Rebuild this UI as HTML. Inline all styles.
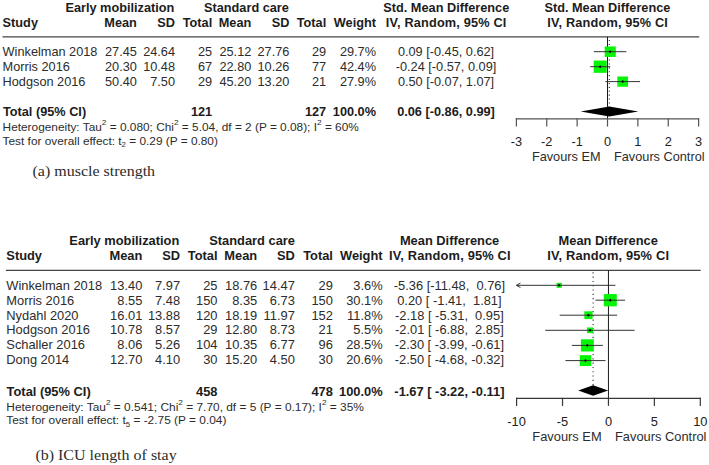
<!DOCTYPE html>
<html><head><meta charset="utf-8"><title>Forest plots</title>
<style>
html,body{margin:0;padding:0;background:#fff;width:709px;height:465px;overflow:hidden}
svg{display:block;font-family:"Liberation Sans",sans-serif;fill:#2c2c2c}
</style></head><body>
<svg width="709" height="465" viewBox="0 0 709 465">
<rect width="709" height="465" fill="#fff"/>
<text transform="translate(65.40,11.80) scale(1.06,1)" text-anchor="start" font-size="12.028" font-weight="bold" fill="#1c1c1c">Early mobilization</text>
<text transform="translate(204.00,11.80) scale(1.06,1)" text-anchor="start" font-size="12.028" font-weight="bold" fill="#1c1c1c">Standard care</text>
<text transform="translate(446.25,11.80) scale(1.06,1)" text-anchor="middle" font-size="12.028" font-weight="bold" fill="#1c1c1c">Std. Mean Difference</text>
<text transform="translate(607.40,11.80) scale(1.06,1)" text-anchor="middle" font-size="12.028" font-weight="bold" fill="#1c1c1c">Std. Mean Difference</text>
<text transform="translate(2.60,26.80) scale(1.06,1)" text-anchor="start" font-size="12.028" font-weight="bold" fill="#1c1c1c">Study</text>
<text transform="translate(136.90,26.80) scale(1.06,1)" text-anchor="end" font-size="12.028" font-weight="bold" fill="#1c1c1c">Mean</text>
<text transform="translate(175.00,26.80) scale(1.06,1)" text-anchor="end" font-size="12.028" font-weight="bold" fill="#1c1c1c">SD</text>
<text transform="translate(212.20,26.80) scale(1.06,1)" text-anchor="end" font-size="12.028" font-weight="bold" fill="#1c1c1c">Total</text>
<text transform="translate(251.30,26.80) scale(1.06,1)" text-anchor="end" font-size="12.028" font-weight="bold" fill="#1c1c1c">Mean</text>
<text transform="translate(289.40,26.80) scale(1.06,1)" text-anchor="end" font-size="12.028" font-weight="bold" fill="#1c1c1c">SD</text>
<text transform="translate(326.20,26.80) scale(1.06,1)" text-anchor="end" font-size="12.028" font-weight="bold" fill="#1c1c1c">Total</text>
<text transform="translate(376.00,26.80) scale(1.06,1)" text-anchor="end" font-size="12.028" font-weight="bold" fill="#1c1c1c">Weight</text>
<text transform="translate(446.15,26.80) scale(1.06,1)" text-anchor="middle" font-size="12.028" font-weight="bold" fill="#1c1c1c" letter-spacing="0.16">IV, Random, 95% CI</text>
<text transform="translate(607.70,26.80) scale(1.06,1)" text-anchor="middle" font-size="12.028" font-weight="bold" fill="#1c1c1c" letter-spacing="0.16">IV, Random, 95% CI</text>
<line x1="2.50" y1="36.80" x2="699.20" y2="36.80" stroke="#444" stroke-width="1.25"/>
<text transform="translate(2.60,55.90) scale(1.06,1)" text-anchor="start" font-size="12.028">Winkelman 2018</text>
<text transform="translate(136.90,55.90) scale(1.06,1)" text-anchor="end" font-size="12.028">27.45</text>
<text transform="translate(175.00,55.90) scale(1.06,1)" text-anchor="end" font-size="12.028">24.64</text>
<text transform="translate(212.20,55.90) scale(1.06,1)" text-anchor="end" font-size="12.028">25</text>
<text transform="translate(251.30,55.90) scale(1.06,1)" text-anchor="end" font-size="12.028">25.12</text>
<text transform="translate(289.40,55.90) scale(1.06,1)" text-anchor="end" font-size="12.028">27.76</text>
<text transform="translate(326.20,55.90) scale(1.06,1)" text-anchor="end" font-size="12.028">29</text>
<text transform="translate(376.00,55.90) scale(1.06,1)" text-anchor="end" font-size="12.028">29.7%</text>
<text transform="translate(446.00,55.90) scale(1.06,1)" text-anchor="middle" font-size="12.028" xml:space="preserve">0.09 [-0.45, 0.62]</text>
<text transform="translate(2.60,70.90) scale(1.06,1)" text-anchor="start" font-size="12.028">Morris 2016</text>
<text transform="translate(136.90,70.90) scale(1.06,1)" text-anchor="end" font-size="12.028">20.30</text>
<text transform="translate(175.00,70.90) scale(1.06,1)" text-anchor="end" font-size="12.028">10.48</text>
<text transform="translate(212.20,70.90) scale(1.06,1)" text-anchor="end" font-size="12.028">67</text>
<text transform="translate(251.30,70.90) scale(1.06,1)" text-anchor="end" font-size="12.028">22.80</text>
<text transform="translate(289.40,70.90) scale(1.06,1)" text-anchor="end" font-size="12.028">10.26</text>
<text transform="translate(326.20,70.90) scale(1.06,1)" text-anchor="end" font-size="12.028">77</text>
<text transform="translate(376.00,70.90) scale(1.06,1)" text-anchor="end" font-size="12.028">42.4%</text>
<text transform="translate(446.00,70.90) scale(1.06,1)" text-anchor="middle" font-size="12.028" xml:space="preserve">-0.24 [-0.57, 0.09]</text>
<text transform="translate(2.60,85.80) scale(1.06,1)" text-anchor="start" font-size="12.028">Hodgson 2016</text>
<text transform="translate(136.90,85.80) scale(1.06,1)" text-anchor="end" font-size="12.028">50.40</text>
<text transform="translate(175.00,85.80) scale(1.06,1)" text-anchor="end" font-size="12.028">7.50</text>
<text transform="translate(212.20,85.80) scale(1.06,1)" text-anchor="end" font-size="12.028">29</text>
<text transform="translate(251.30,85.80) scale(1.06,1)" text-anchor="end" font-size="12.028">45.20</text>
<text transform="translate(289.40,85.80) scale(1.06,1)" text-anchor="end" font-size="12.028">13.20</text>
<text transform="translate(326.20,85.80) scale(1.06,1)" text-anchor="end" font-size="12.028">21</text>
<text transform="translate(376.00,85.80) scale(1.06,1)" text-anchor="end" font-size="12.028">27.9%</text>
<text transform="translate(446.00,85.80) scale(1.06,1)" text-anchor="middle" font-size="12.028" xml:space="preserve">0.50 [-0.07, 1.07]</text>
<text transform="translate(2.90,116.40) scale(1.06,1)" text-anchor="start" font-size="12.028" font-weight="bold" fill="#1c1c1c">Total (95% CI)</text>
<text transform="translate(212.20,116.40) scale(1.06,1)" text-anchor="end" font-size="12.028" font-weight="bold" fill="#1c1c1c">121</text>
<text transform="translate(326.20,116.40) scale(1.06,1)" text-anchor="end" font-size="12.028" font-weight="bold" fill="#1c1c1c">127</text>
<text transform="translate(376.00,116.40) scale(1.06,1)" text-anchor="end" font-size="12.028" font-weight="bold" fill="#1c1c1c">100.0%</text>
<text transform="translate(446.00,116.40) scale(1.06,1)" text-anchor="middle" font-size="12.028" font-weight="bold" fill="#1c1c1c" xml:space="preserve">0.06 [-0.86, 0.99]</text>
<text transform="translate(2.60,130.70) scale(1.06,1)" text-anchor="start" font-size="11.189">Heterogeneity: Tau<tspan font-size="7.83" dy="-6.2">2</tspan><tspan dy="6.2"> = 0.080; Chi</tspan><tspan font-size="7.83" dy="-6.2">2</tspan><tspan dy="6.2"> = 5.04, df = 2 (P = 0.08); I</tspan><tspan font-size="7.83" dy="-6.2">2</tspan><tspan dy="6.2"> = 60%</tspan></text>
<text transform="translate(2.60,144.80) scale(1.06,1)" text-anchor="start" font-size="11.189">Test for overall effect: t<tspan font-size="7.38" dy="2.6">2</tspan><tspan dy="-2.6"> = 0.29 (P = 0.80)</tspan></text>
<line x1="607.50" y1="36.80" x2="607.50" y2="118.90" stroke="#1a1a1a" stroke-width="1.0"/>
<line x1="609.32" y1="40.00" x2="609.32" y2="106.70" stroke="#333" stroke-width="1.15" stroke-dasharray="1.1,2.8"/>
<rect x="604.69" y="46.45" width="11.08" height="10.50" fill="#06f406"/>
<line x1="593.83" y1="51.70" x2="626.33" y2="51.70" stroke="#333" stroke-width="1.0"/>
<ellipse cx="610.23" cy="51.70" rx="0.95" ry="1.3" fill="#000"/>
<rect x="593.72" y="60.55" width="12.98" height="12.30" fill="#06f406"/>
<line x1="590.19" y1="66.70" x2="610.23" y2="66.70" stroke="#333" stroke-width="1.0"/>
<ellipse cx="600.21" cy="66.70" rx="0.95" ry="1.3" fill="#000"/>
<rect x="617.30" y="76.50" width="10.76" height="10.20" fill="#06f406"/>
<line x1="605.37" y1="81.60" x2="640.00" y2="81.60" stroke="#333" stroke-width="1.0"/>
<ellipse cx="622.68" cy="81.60" rx="0.95" ry="1.3" fill="#000"/>
<polygon points="580.68,111.50 609.32,106.40 638.27,111.50 609.32,116.60" fill="#000"/>
<line x1="515.79" y1="118.90" x2="699.21" y2="118.90" stroke="#555" stroke-width="1.3"/>
<line x1="516.39" y1="118.30" x2="516.39" y2="126.60" stroke="#555" stroke-width="1.2"/>
<text transform="translate(516.39,145.60) scale(1.06,1)" text-anchor="middle" font-size="12.028" fill="#222">-3</text>
<line x1="546.76" y1="118.30" x2="546.76" y2="126.60" stroke="#555" stroke-width="1.2"/>
<text transform="translate(546.76,145.60) scale(1.06,1)" text-anchor="middle" font-size="12.028" fill="#222">-2</text>
<line x1="577.13" y1="118.30" x2="577.13" y2="126.60" stroke="#555" stroke-width="1.2"/>
<text transform="translate(577.13,145.60) scale(1.06,1)" text-anchor="middle" font-size="12.028" fill="#222">-1</text>
<line x1="607.50" y1="118.30" x2="607.50" y2="126.60" stroke="#555" stroke-width="1.2"/>
<text transform="translate(607.50,145.60) scale(1.06,1)" text-anchor="middle" font-size="12.028" fill="#222">0</text>
<line x1="637.87" y1="118.30" x2="637.87" y2="126.60" stroke="#555" stroke-width="1.2"/>
<text transform="translate(637.87,145.60) scale(1.06,1)" text-anchor="middle" font-size="12.028" fill="#222">1</text>
<line x1="668.24" y1="118.30" x2="668.24" y2="126.60" stroke="#555" stroke-width="1.2"/>
<text transform="translate(668.24,145.60) scale(1.06,1)" text-anchor="middle" font-size="12.028" fill="#222">2</text>
<line x1="698.61" y1="118.30" x2="698.61" y2="126.60" stroke="#555" stroke-width="1.2"/>
<text transform="translate(698.61,145.60) scale(1.06,1)" text-anchor="middle" font-size="12.028" fill="#222">3</text>
<text transform="translate(600.50,160.60) scale(1.06,1)" text-anchor="end" font-size="12.028">Favours EM</text>
<text transform="translate(614.00,160.60) scale(1.06,1)" text-anchor="start" font-size="12.028">Favours Control</text>
<text transform="translate(32.50,176.00) scale(1.06,1)" text-anchor="start" font-size="15.094" font-family="Liberation Serif">(a) muscle strength</text>
<text transform="translate(69.30,245.00) scale(1.06,1)" text-anchor="start" font-size="12.149" font-weight="bold" fill="#1c1c1c">Early mobilization</text>
<text transform="translate(209.20,245.00) scale(1.06,1)" text-anchor="start" font-size="12.149" font-weight="bold" fill="#1c1c1c">Standard care</text>
<text transform="translate(449.55,245.00) scale(1.06,1)" text-anchor="middle" font-size="12.149" font-weight="bold" fill="#1c1c1c">Mean Difference</text>
<text transform="translate(608.25,245.00) scale(1.06,1)" text-anchor="middle" font-size="12.149" font-weight="bold" fill="#1c1c1c">Mean Difference</text>
<text transform="translate(6.30,259.70) scale(1.06,1)" text-anchor="start" font-size="12.149" font-weight="bold" fill="#1c1c1c">Study</text>
<text transform="translate(142.30,259.70) scale(1.06,1)" text-anchor="end" font-size="12.149" font-weight="bold" fill="#1c1c1c">Mean</text>
<text transform="translate(180.10,259.70) scale(1.06,1)" text-anchor="end" font-size="12.149" font-weight="bold" fill="#1c1c1c">SD</text>
<text transform="translate(217.50,259.70) scale(1.06,1)" text-anchor="end" font-size="12.149" font-weight="bold" fill="#1c1c1c">Total</text>
<text transform="translate(257.20,259.70) scale(1.06,1)" text-anchor="end" font-size="12.149" font-weight="bold" fill="#1c1c1c">Mean</text>
<text transform="translate(294.80,259.70) scale(1.06,1)" text-anchor="end" font-size="12.149" font-weight="bold" fill="#1c1c1c">SD</text>
<text transform="translate(332.90,259.70) scale(1.06,1)" text-anchor="end" font-size="12.149" font-weight="bold" fill="#1c1c1c">Total</text>
<text transform="translate(382.60,259.70) scale(1.06,1)" text-anchor="end" font-size="12.149" font-weight="bold" fill="#1c1c1c">Weight</text>
<text transform="translate(449.85,259.70) scale(1.06,1)" text-anchor="middle" font-size="12.149" font-weight="bold" fill="#1c1c1c" letter-spacing="0.16">IV, Random, 95% CI</text>
<text transform="translate(608.20,259.70) scale(1.06,1)" text-anchor="middle" font-size="12.149" font-weight="bold" fill="#1c1c1c" letter-spacing="0.16">IV, Random, 95% CI</text>
<line x1="5.90" y1="270.30" x2="700.70" y2="270.30" stroke="#444" stroke-width="1.25"/>
<text transform="translate(6.30,289.70) scale(1.06,1)" text-anchor="start" font-size="12.149">Winkelman 2018</text>
<text transform="translate(142.30,289.70) scale(1.06,1)" text-anchor="end" font-size="12.149">13.40</text>
<text transform="translate(180.10,289.70) scale(1.06,1)" text-anchor="end" font-size="12.149">7.97</text>
<text transform="translate(217.50,289.70) scale(1.06,1)" text-anchor="end" font-size="12.149">25</text>
<text transform="translate(257.20,289.70) scale(1.06,1)" text-anchor="end" font-size="12.149">18.76</text>
<text transform="translate(294.80,289.70) scale(1.06,1)" text-anchor="end" font-size="12.149">14.47</text>
<text transform="translate(332.90,289.70) scale(1.06,1)" text-anchor="end" font-size="12.149">29</text>
<text transform="translate(382.60,289.70) scale(1.06,1)" text-anchor="end" font-size="12.149">3.6%</text>
<text transform="translate(449.40,289.70) scale(1.06,1)" text-anchor="middle" font-size="12.149" xml:space="preserve">-5.36 [-11.48,  0.76]</text>
<text transform="translate(6.30,304.60) scale(1.06,1)" text-anchor="start" font-size="12.149">Morris 2016</text>
<text transform="translate(142.30,304.60) scale(1.06,1)" text-anchor="end" font-size="12.149">8.55</text>
<text transform="translate(180.10,304.60) scale(1.06,1)" text-anchor="end" font-size="12.149">7.48</text>
<text transform="translate(217.50,304.60) scale(1.06,1)" text-anchor="end" font-size="12.149">150</text>
<text transform="translate(257.20,304.60) scale(1.06,1)" text-anchor="end" font-size="12.149">8.35</text>
<text transform="translate(294.80,304.60) scale(1.06,1)" text-anchor="end" font-size="12.149">6.73</text>
<text transform="translate(332.90,304.60) scale(1.06,1)" text-anchor="end" font-size="12.149">150</text>
<text transform="translate(382.60,304.60) scale(1.06,1)" text-anchor="end" font-size="12.149">30.1%</text>
<text transform="translate(449.40,304.60) scale(1.06,1)" text-anchor="middle" font-size="12.149" xml:space="preserve">0.20 [ -1.41,  1.81]</text>
<text transform="translate(6.30,319.60) scale(1.06,1)" text-anchor="start" font-size="12.149">Nydahl 2020</text>
<text transform="translate(142.30,319.60) scale(1.06,1)" text-anchor="end" font-size="12.149">16.01</text>
<text transform="translate(180.10,319.60) scale(1.06,1)" text-anchor="end" font-size="12.149">13.88</text>
<text transform="translate(217.50,319.60) scale(1.06,1)" text-anchor="end" font-size="12.149">120</text>
<text transform="translate(257.20,319.60) scale(1.06,1)" text-anchor="end" font-size="12.149">18.19</text>
<text transform="translate(294.80,319.60) scale(1.06,1)" text-anchor="end" font-size="12.149">11.97</text>
<text transform="translate(332.90,319.60) scale(1.06,1)" text-anchor="end" font-size="12.149">152</text>
<text transform="translate(382.60,319.60) scale(1.06,1)" text-anchor="end" font-size="12.149">11.8%</text>
<text transform="translate(449.40,319.60) scale(1.06,1)" text-anchor="middle" font-size="12.149" xml:space="preserve">-2.18 [ -5.31,  0.95]</text>
<text transform="translate(6.30,334.40) scale(1.06,1)" text-anchor="start" font-size="12.149">Hodgson 2016</text>
<text transform="translate(142.30,334.40) scale(1.06,1)" text-anchor="end" font-size="12.149">10.78</text>
<text transform="translate(180.10,334.40) scale(1.06,1)" text-anchor="end" font-size="12.149">8.57</text>
<text transform="translate(217.50,334.40) scale(1.06,1)" text-anchor="end" font-size="12.149">29</text>
<text transform="translate(257.20,334.40) scale(1.06,1)" text-anchor="end" font-size="12.149">12.80</text>
<text transform="translate(294.80,334.40) scale(1.06,1)" text-anchor="end" font-size="12.149">8.73</text>
<text transform="translate(332.90,334.40) scale(1.06,1)" text-anchor="end" font-size="12.149">21</text>
<text transform="translate(382.60,334.40) scale(1.06,1)" text-anchor="end" font-size="12.149">5.5%</text>
<text transform="translate(449.40,334.40) scale(1.06,1)" text-anchor="middle" font-size="12.149" xml:space="preserve">-2.01 [ -6.88,  2.85]</text>
<text transform="translate(6.30,349.30) scale(1.06,1)" text-anchor="start" font-size="12.149">Schaller 2016</text>
<text transform="translate(142.30,349.30) scale(1.06,1)" text-anchor="end" font-size="12.149">8.06</text>
<text transform="translate(180.10,349.30) scale(1.06,1)" text-anchor="end" font-size="12.149">5.26</text>
<text transform="translate(217.50,349.30) scale(1.06,1)" text-anchor="end" font-size="12.149">104</text>
<text transform="translate(257.20,349.30) scale(1.06,1)" text-anchor="end" font-size="12.149">10.35</text>
<text transform="translate(294.80,349.30) scale(1.06,1)" text-anchor="end" font-size="12.149">6.77</text>
<text transform="translate(332.90,349.30) scale(1.06,1)" text-anchor="end" font-size="12.149">96</text>
<text transform="translate(382.60,349.30) scale(1.06,1)" text-anchor="end" font-size="12.149">28.5%</text>
<text transform="translate(449.40,349.30) scale(1.06,1)" text-anchor="middle" font-size="12.149" xml:space="preserve">-2.30 [ -3.99, -0.61]</text>
<text transform="translate(6.30,364.30) scale(1.06,1)" text-anchor="start" font-size="12.149">Dong 2014</text>
<text transform="translate(142.30,364.30) scale(1.06,1)" text-anchor="end" font-size="12.149">12.70</text>
<text transform="translate(180.10,364.30) scale(1.06,1)" text-anchor="end" font-size="12.149">4.10</text>
<text transform="translate(217.50,364.30) scale(1.06,1)" text-anchor="end" font-size="12.149">30</text>
<text transform="translate(257.20,364.30) scale(1.06,1)" text-anchor="end" font-size="12.149">15.20</text>
<text transform="translate(294.80,364.30) scale(1.06,1)" text-anchor="end" font-size="12.149">4.50</text>
<text transform="translate(332.90,364.30) scale(1.06,1)" text-anchor="end" font-size="12.149">30</text>
<text transform="translate(382.60,364.30) scale(1.06,1)" text-anchor="end" font-size="12.149">20.6%</text>
<text transform="translate(449.40,364.30) scale(1.06,1)" text-anchor="middle" font-size="12.149" xml:space="preserve">-2.50 [ -4.68, -0.32]</text>
<text transform="translate(6.60,395.70) scale(1.06,1)" text-anchor="start" font-size="12.149" font-weight="bold" fill="#1c1c1c">Total (95% CI)</text>
<text transform="translate(217.50,395.70) scale(1.06,1)" text-anchor="end" font-size="12.149" font-weight="bold" fill="#1c1c1c">458</text>
<text transform="translate(332.90,395.70) scale(1.06,1)" text-anchor="end" font-size="12.149" font-weight="bold" fill="#1c1c1c">478</text>
<text transform="translate(382.60,395.70) scale(1.06,1)" text-anchor="end" font-size="12.149" font-weight="bold" fill="#1c1c1c">100.0%</text>
<text transform="translate(449.40,395.70) scale(1.06,1)" text-anchor="middle" font-size="12.149" font-weight="bold" fill="#1c1c1c" xml:space="preserve">-1.67 [ -3.22, -0.11]</text>
<text transform="translate(6.30,410.90) scale(1.06,1)" text-anchor="start" font-size="11.233">Heterogeneity: Tau<tspan font-size="7.83" dy="-6.2">2</tspan><tspan dy="6.2"> = 0.541; Chi</tspan><tspan font-size="7.83" dy="-6.2">2</tspan><tspan dy="6.2"> = 7.70, df = 5 (P = 0.17); I</tspan><tspan font-size="7.83" dy="-6.2">2</tspan><tspan dy="6.2"> = 35%</tspan></text>
<text transform="translate(6.30,423.90) scale(1.06,1)" text-anchor="start" font-size="11.233">Test for overall effect: t<tspan font-size="7.38" dy="2.6">5</tspan><tspan dy="-2.6"> = -2.75 (P = 0.04)</tspan></text>
<line x1="608.45" y1="270.30" x2="608.45" y2="398.40" stroke="#1a1a1a" stroke-width="1.0"/>
<line x1="593.11" y1="272.30" x2="593.11" y2="385.60" stroke="#333" stroke-width="1.15" stroke-dasharray="1.1,3.2"/>
<rect x="556.58" y="282.80" width="5.27" height="5.00" fill="#06f406"/>
<line x1="516.50" y1="285.30" x2="615.43" y2="285.30" stroke="#333" stroke-width="1.0"/>
<polyline points="520.50,283.00 516.50,285.30 520.50,287.60" fill="none" stroke="#222" stroke-width="0.9"/>
<ellipse cx="559.22" cy="285.30" rx="0.95" ry="1.3" fill="#000"/>
<rect x="603.80" y="294.05" width="12.98" height="12.30" fill="#06f406"/>
<line x1="595.50" y1="300.20" x2="625.07" y2="300.20" stroke="#333" stroke-width="1.0"/>
<ellipse cx="610.29" cy="300.20" rx="0.95" ry="1.3" fill="#000"/>
<rect x="584.31" y="311.30" width="8.23" height="7.80" fill="#06f406"/>
<line x1="559.68" y1="315.20" x2="617.18" y2="315.20" stroke="#333" stroke-width="1.0"/>
<ellipse cx="588.43" cy="315.20" rx="0.95" ry="1.3" fill="#000"/>
<rect x="586.98" y="327.45" width="6.01" height="5.70" fill="#06f406"/>
<line x1="545.26" y1="330.30" x2="634.63" y2="330.30" stroke="#333" stroke-width="1.0"/>
<ellipse cx="589.99" cy="330.30" rx="0.95" ry="1.3" fill="#000"/>
<rect x="580.89" y="339.30" width="12.87" height="12.20" fill="#06f406"/>
<line x1="571.80" y1="345.40" x2="602.85" y2="345.40" stroke="#333" stroke-width="1.0"/>
<ellipse cx="587.32" cy="345.40" rx="0.95" ry="1.3" fill="#000"/>
<rect x="579.74" y="355.15" width="11.50" height="10.90" fill="#06f406"/>
<line x1="565.46" y1="360.60" x2="605.51" y2="360.60" stroke="#333" stroke-width="1.0"/>
<ellipse cx="585.49" cy="360.60" rx="0.95" ry="1.3" fill="#000"/>
<polygon points="578.17,390.50 593.11,385.30 608.14,390.50 593.11,395.70" fill="#000"/>
<line x1="516.00" y1="398.40" x2="700.90" y2="398.40" stroke="#383838" stroke-width="1.3"/>
<line x1="516.60" y1="397.80" x2="516.60" y2="405.90" stroke="#383838" stroke-width="1.2"/>
<text transform="translate(516.60,425.60) scale(1.06,1)" text-anchor="middle" font-size="12.149" fill="#222">-10</text>
<line x1="562.53" y1="397.80" x2="562.53" y2="405.90" stroke="#383838" stroke-width="1.2"/>
<text transform="translate(562.53,425.60) scale(1.06,1)" text-anchor="middle" font-size="12.149" fill="#222">-5</text>
<line x1="608.45" y1="397.80" x2="608.45" y2="405.90" stroke="#383838" stroke-width="1.2"/>
<text transform="translate(608.45,425.60) scale(1.06,1)" text-anchor="middle" font-size="12.149" fill="#222">0</text>
<line x1="654.38" y1="397.80" x2="654.38" y2="405.90" stroke="#383838" stroke-width="1.2"/>
<text transform="translate(654.38,425.60) scale(1.06,1)" text-anchor="middle" font-size="12.149" fill="#222">5</text>
<line x1="700.30" y1="397.80" x2="700.30" y2="405.90" stroke="#383838" stroke-width="1.2"/>
<text transform="translate(700.30,425.60) scale(1.06,1)" text-anchor="middle" font-size="12.149" fill="#222">10</text>
<text transform="translate(601.65,441.10) scale(1.06,1)" text-anchor="end" font-size="12.149">Favours EM</text>
<text transform="translate(614.95,441.10) scale(1.06,1)" text-anchor="start" font-size="12.149">Favours Control</text>
<text transform="translate(35.40,460.40) scale(1.06,1)" text-anchor="start" font-size="15.094" font-family="Liberation Serif">(b) ICU length of stay</text>
</svg>
</body></html>
